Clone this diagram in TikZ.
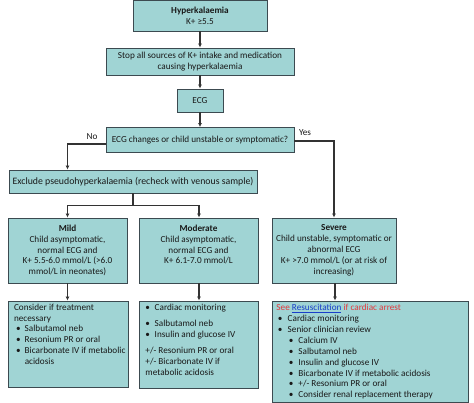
\documentclass[tikz,border=0pt]{standalone}
\usepackage{fontspec}
\setmainfont{Carlito}
\usetikzlibrary{arrows.meta}
\usetikzlibrary{calc}
\definecolor{boxfill}{HTML}{A0D4D4}
\definecolor{boxline}{HTML}{3C4A50}
\definecolor{warnred}{HTML}{E23A3E}
\definecolor{linkblue}{HTML}{1A3FC9}
\newcommand{\bul}[2] % indent in pt, width in pt
{\hspace*{#1pt}\makebox[#2pt][l]{\textbullet}}

\begin{document}
\begin{tikzpicture}[x=1pt, y=-1pt,
	box/.style={draw=boxline, line width=0.9pt, fill=boxfill, inner sep=0pt},
	txt/.style={inner sep=0pt, font=\fontsize{9.2}{10.9}\selectfont, text=black!90},
	arr/.style={draw=black!80, line width=1.1pt, -{Latex[length=4pt,width=4pt]}}]
	\useasboundingbox (0,0) rectangle (474,403);
	% top of the chart
	\node[box, txt, align=center, minimum width=134pt, minimum height=30.5pt] (hyper) at (200,15.75)
		{\textbf{Hyperkalaemia}\\K+ ≥5.5};
	\node[box, txt, align=center, minimum width=188pt, minimum height=27pt] (stop) at (200,61.5)
		{Stop all sources of K+ intake and medication\\causing hyperkalaemia};
	\node[box, txt, minimum width=46pt, minimum height=23pt] (ecg) at (200,100.5) {ECG};
	\node[box, txt, minimum width=188pt, minimum height=25pt] (dec) at (200,140)
		{ECG changes or child unstable or symptomatic?};
	\node[box, txt, font=\fontsize{9.8}{11}\selectfont, minimum width=248pt, minimum height=23pt] (excl) at (133,181.5)
		{Exclude pseudohyperkalaemia (recheck with venous sample)};
	\node[txt] (no) at (92,136.7) {No};
	\node[txt] (yes) at (305,133) {Yes};
	
	% severity boxes
	\node[box, minimum width=119pt, minimum height=65pt] (mild) at (67.5,250.5) {};
	\node[box, minimum width=119pt, minimum height=65pt] (mod) at (198.5,250.5) {};
	\node[box, minimum width=124pt, minimum height=65pt] (sev) at (334,250.5) {};
	\node[txt, align=center, anchor=north] (mildhead) at ($(mild.north)+(0,7)$)
		{\textbf{Mild}\\Child asymptomatic,\\normal ECG and\\K+ 5.5-6.0 mmol/L (>6.0\\mmol/L in neonates)};
	\node[txt, align=center, anchor=north] (modhead) at ($(mod.north)+(0,7)$)
		{\textbf{Moderate}\\Child asymptomatic,\\normal ECG and\\K+ 6.1-7.0 mmol/L};
	\node[txt, align=center, anchor=north] (sevhead) at ($(sev.north)+(0,7)$)
		{\textbf{Severe}\\Child unstable, symptomatic or\\abnormal ECG\\K+ >7.0 mmol/L (or at risk of\\increasing)};
	
	% treatment boxes
	\node[box, minimum width=120pt, minimum height=86pt] (mildtx) at (68,344) {};
	\node[box, minimum width=119pt, minimum height=87pt] (modtx) at (198.5,344.5) {};
	\node[box, minimum width=196pt, minimum height=101pt] (sevtx) at (370,351.5) {};
	\node[txt, align=left, anchor=north west] (mildlist) at ($(mildtx.north west)+(6.3,3)$)
		{Consider if treatment\\necessary\\
		\bul{2}{8.7}Salbutamol neb\\
		\bul{2}{8.7}Resonium PR or oral\\
		\bul{2}{8.7}Bicarbonate IV if metabolic\\
		\hspace*{10.7pt}acidosis};
	\node[txt, align=left, anchor=north west] (modlist) at ($(modtx.north west)+(6.7,3.5)$)
		{\bul{0}{9.3}Cardiac monitoring\\[5pt]
		\bul{0}{9.3}Salbutamol neb\\
		\bul{0}{9.3}Insulin and glucose IV\\[5pt]
		+/- Resonium PR or oral\\
		+/- Bicarbonate IV if\\
		metabolic acidosis};
	\node[txt, align=left, anchor=north west] (sevlist) at ($(sevtx.north west)+(4.7,3.5)$)
		{\textcolor{warnred}{See \textcolor{linkblue}{\underline{Resuscitation}} if cardiac arrest}\\
		\bul{1.3}{10}Cardiac monitoring\\
		\bul{1.3}{10}Senior clinician review\\
		\bul{12.3}{9.7}Calcium IV\\
		\bul{12.3}{9.7}Salbutamol neb\\
		\bul{12.3}{9.7}Insulin and glucose IV\\
		\bul{12.3}{9.7}Bicarbonate IV if metabolic acidosis\\
		\bul{12.3}{9.7}+/- Resonium PR or oral\\
		\bul{12.3}{9.7}Consider renal replacement therapy};
	
	% connectors
	\draw[arr] (hyper) -- (stop);
	\draw[arr] (stop) -- (ecg);
	\draw[arr] (ecg) -- (dec);
	\draw[arr] ([yshift=-4pt]dec.west) -| (mild.north |- excl.north);
	\draw[arr] ([yshift=-1pt]dec.east) -| (sev.north);
	\draw[draw=black!80, line width=1.1pt] (excl.south) -- ++(0,12.5) coordinate (split);
	\draw[arr] (split) -| (mild.north);
	\draw[arr] (split) -| ([xshift=0.5pt]mod.north);
	\draw[arr] (mild) -- (mildtx.north -| mild.south);
	\draw[arr] ([xshift=0.5pt]mod.south) -- ([xshift=0.5pt]mod.south |- modtx.north);
	\draw[arr] ([xshift=1pt]sev.south) -- ([xshift=1pt]sev.south |- sevtx.north);
\end{tikzpicture}
\end{document}
